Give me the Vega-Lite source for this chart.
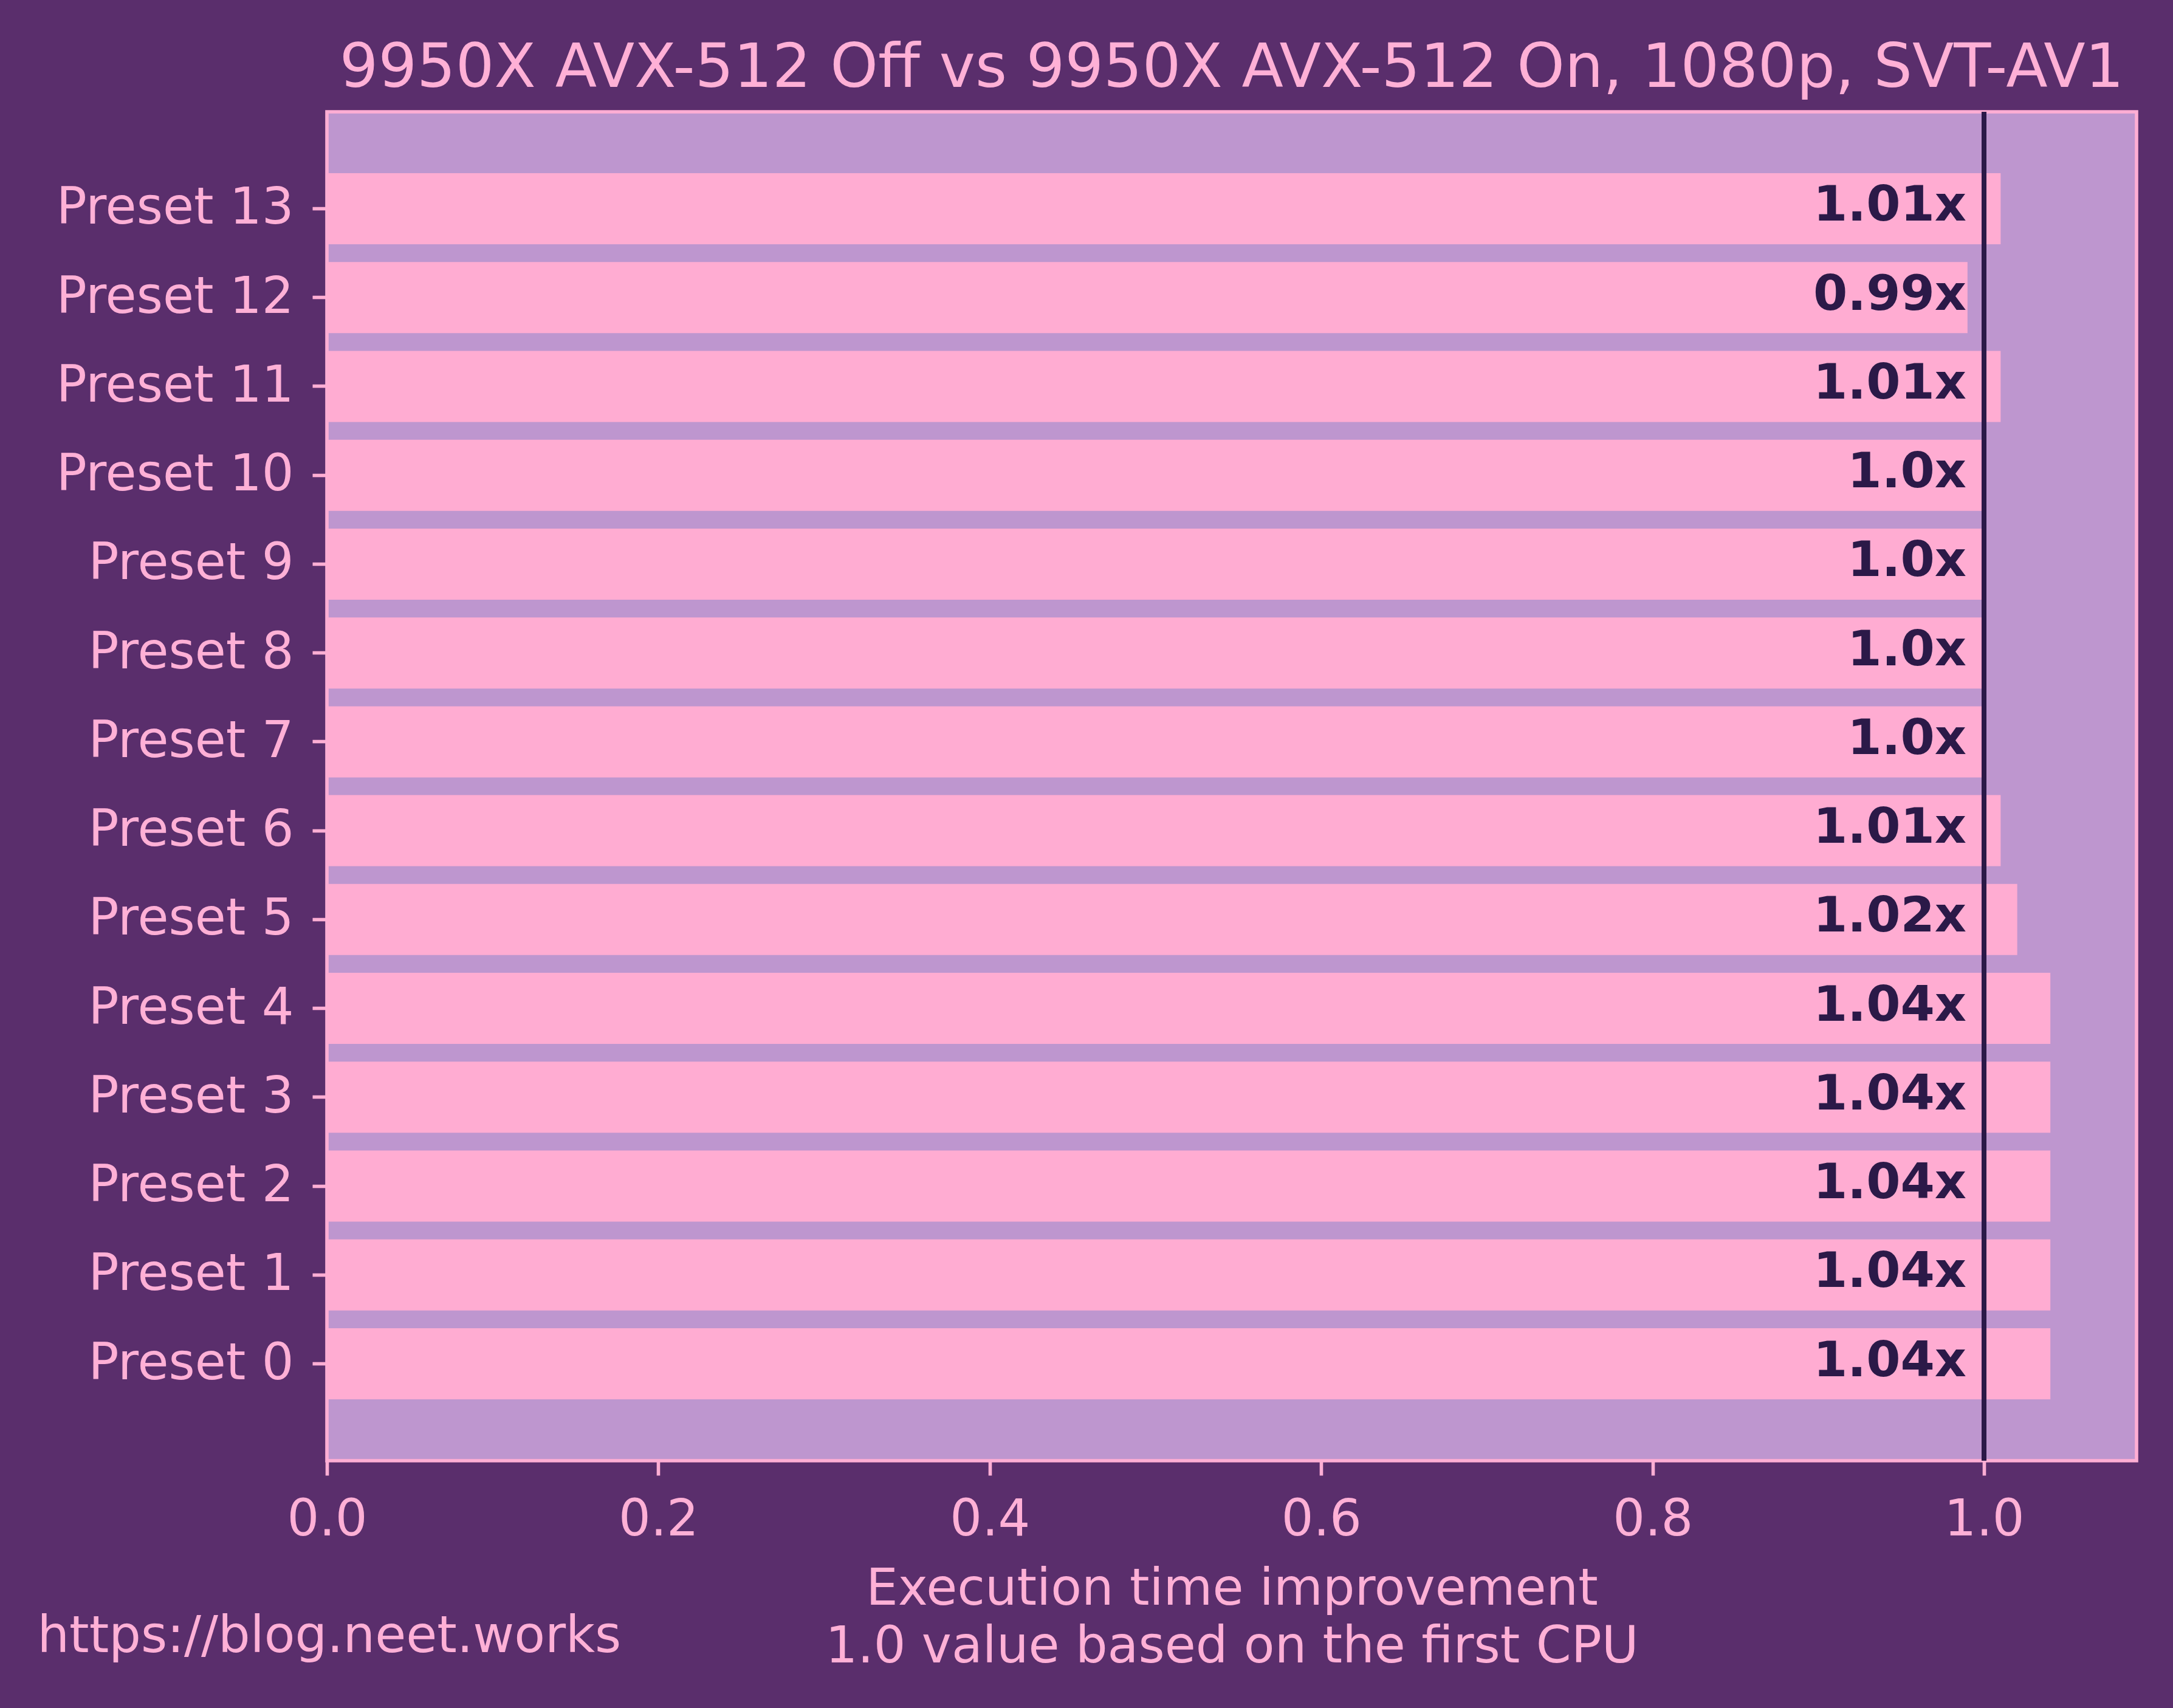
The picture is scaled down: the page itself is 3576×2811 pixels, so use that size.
{
  "$schema": "https://vega.github.io/schema/vega-lite/v6.json",
  "autosize": {"type": "none"},
  "width": 2978,
  "height": 2220,
  "padding": {"left": 538, "top": 184, "right": 60, "bottom": 407},
  "background": "#5a2e6c",
  "view": {"fill": "#be96cf", "stroke": "#ffaed4", "strokeWidth": 5.6},
  "title": {
    "text": "9950X AVX-512 Off vs 9950X AVX-512 On, 1080p, SVT-AV1",
    "font": "DejaVu Sans",
    "fontSize": 100,
    "fontWeight": "normal",
    "color": "#ffb0d6",
    "anchor": "middle",
    "baseline": "alphabetic",
    "offset": 48,
    "dy": 110
  },
  "data": {
    "values": [
      {"preset": "Preset 13", "ratio": 1.01, "label": "1.01x"},
      {"preset": "Preset 12", "ratio": 0.99, "label": "0.99x"},
      {"preset": "Preset 11", "ratio": 1.01, "label": "1.01x"},
      {"preset": "Preset 10", "ratio": 1.0, "label": "1.0x"},
      {"preset": "Preset 9", "ratio": 1.0, "label": "1.0x"},
      {"preset": "Preset 8", "ratio": 1.0, "label": "1.0x"},
      {"preset": "Preset 7", "ratio": 1.0, "label": "1.0x"},
      {"preset": "Preset 6", "ratio": 1.01, "label": "1.01x"},
      {"preset": "Preset 5", "ratio": 1.02, "label": "1.02x"},
      {"preset": "Preset 4", "ratio": 1.04, "label": "1.04x"},
      {"preset": "Preset 3", "ratio": 1.04, "label": "1.04x"},
      {"preset": "Preset 2", "ratio": 1.04, "label": "1.04x"},
      {"preset": "Preset 1", "ratio": 1.04, "label": "1.04x"},
      {"preset": "Preset 0", "ratio": 1.04, "label": "1.04x"}
    ]
  },
  "layer": [
    {
      "mark": {"type": "bar", "color": "#ffacd2"},
      "encoding": {
        "y": {
          "field": "preset",
          "type": "nominal",
          "sort": null,
          "scale": {"paddingInner": 0.2, "paddingOuter": 0.69},
          "axis": {
            "title": "https://blog.neet.works",
            "titleAngle": 0,
            "titleX": -477,
            "titleY": 2534,
            "titleAlign": "left",
            "titleBaseline": "alphabetic",
            "titleFont": "DejaVu Sans",
            "titleFontSize": 83,
            "titleFontWeight": "normal",
            "titleColor": "#ffb0d6",
            "labelFont": "DejaVu Sans",
            "labelFontSize": 83,
            "labelColor": "#ffb0d6",
            "labelPadding": 31,
            "labelBaseline": "middle",
            "labelLimit": 0,
            "tickColor": "#ffaed4",
            "tickSize": 24,
            "tickWidth": 5.6,
            "domain": false,
            "grid": false
          }
        },
        "x": {
          "field": "ratio",
          "type": "quantitative",
          "scale": {"domain": [0, 1.092], "nice": false, "zero": true},
          "axis": {
            "values": [0, 0.2, 0.4, 0.6, 0.8, 1.0],
            "format": ".1f",
            "title": ["Execution time improvement", "1.0 value based on the first CPU"],
            "titleY": 236,
            "titleBaseline": "alphabetic",
            "titleLineHeight": 95,
            "titleFont": "DejaVu Sans",
            "titleFontSize": 83,
            "titleFontWeight": "normal",
            "titleColor": "#ffb0d6",
            "labelFont": "DejaVu Sans",
            "labelFontSize": 83,
            "labelColor": "#ffb0d6",
            "labelBaseline": "alphabetic",
            "labelPadding": 98,
            "labelFlush": false,
            "tickColor": "#ffaed4",
            "tickSize": 24,
            "tickWidth": 5.6,
            "domain": false,
            "grid": false
          }
        }
      }
    },
    {
      "mark": {"type": "rule", "color": "#2b1948", "strokeWidth": 7},
      "encoding": {"x": {"datum": 1.0, "type": "quantitative"}}
    },
    {
      "mark": {
        "type": "text",
        "align": "right",
        "baseline": "middle",
        "dx": -29,
        "dy": -4,
        "font": "DejaVu Sans",
        "fontSize": 81,
        "fontWeight": "bold",
        "color": "#2b1948"
      },
      "encoding": {
        "y": {"field": "preset", "type": "nominal", "sort": null},
        "x": {"datum": 1.0, "type": "quantitative"},
        "text": {"field": "label", "type": "nominal"}
      }
    }
  ]
}
